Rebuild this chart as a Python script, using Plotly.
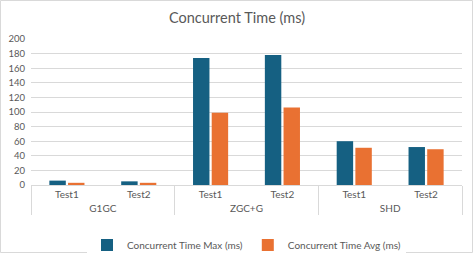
import plotly.graph_objects as go

groups = ["G1GC", "G1GC", "ZGC+G", "ZGC+G", "SHD", "SHD"]
tests = ["Test1", "Test2", "Test1", "Test2", "Test1", "Test2"]
max_vals = [6, 5, 174, 178, 60, 52]
avg_vals = [3, 3, 99, 106, 51, 49]
series_names = ["Concurrent Time Max (ms)", "Concurrent Time Avg (ms)"]
colors = ["#156082", "#E97132"]
y_ticks = [0, 20, 40, 60, 80, 100, 120, 140, 160, 180, 200]

W, H = 474, 254
ml, mr, mt, mb = 31, 12, 39, 69
ph = H - mt - mb
pw = W - ml - mr

fig = go.Figure()
for name, vals, c in zip(series_names, [max_vals, avg_vals], colors):
    fig.add_trace(go.Bar(x=[groups, tests], y=vals, name=name, marker_color=c,
                         marker_line_width=0))

fig.update_layout(
    width=W, height=H,
    margin=dict(l=ml, r=mr, t=mt, b=mb, autoexpand=False),
    paper_bgcolor="white", plot_bgcolor="white",
    font=dict(family="Lato", size=9.5, color="#595959"),
    title=dict(text="Concurrent Time (ms)", x=0.5, xanchor="center", y=1 - 18 / H,
               yanchor="middle", font=dict(size=14.5, color="#595959")),
    barmode="group", bargap=0.48, bargroupgap=0.12,
    showlegend=True,
    legend=dict(orientation="h", x=0.5, xanchor="center", y=-(245 - 185) / ph,
                yanchor="middle", font=dict(size=10, color="#595959"),
                itemwidth=30, tracegroupgap=0),
    xaxis=dict(type="multicategory", showline=True, linecolor="#D9D9D9",
               showdividers=True, dividercolor="#D9D9D9", dividerwidth=1,
               tickfont=dict(size=10, color="#595959"), ticks="", automargin=False),
    yaxis=dict(range=[0, 200], tickvals=y_ticks, showgrid=True, gridcolor="#D9D9D9",
               zeroline=False, tickfont=dict(size=9.5, color="#595959"), ticks="",
               ticklabelstandoff=5, automargin=False),
)
fig.add_shape(type="rect", xref="paper", yref="paper",
              x0=-(ml - 0.5) / pw, x1=1 + (mr - 1.5) / pw,
              y0=-(mb - 1.5) / ph, y1=1 + (mt - 0.5) / ph,
              line=dict(color="#D9D9D9", width=1), layer="below")

fig.write_html("out.html")
